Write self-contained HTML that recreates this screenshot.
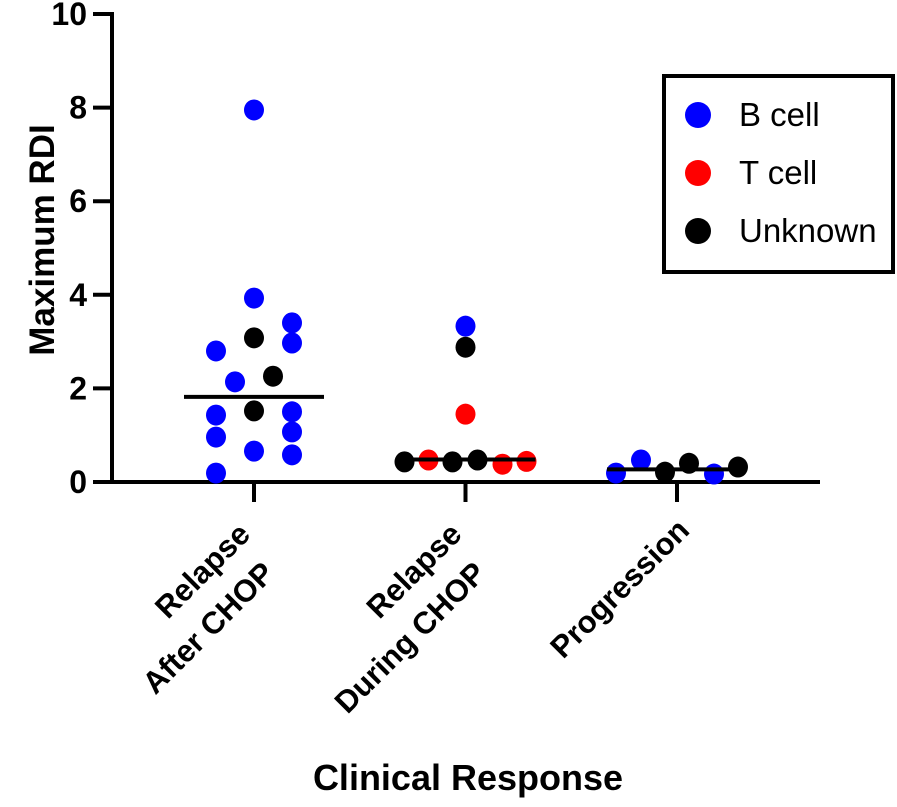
<!DOCTYPE html>
<html><head><meta charset="utf-8"><style>
body{margin:0;background:#fff}
svg text{font-family:"Liberation Sans",Arial,sans-serif}
</style></head><body>
<svg id="c" width="897" height="802" viewBox="0 0 897 802">
</svg>
<script>
const categories=["Relapse|After CHOP","Relapse|During CHOP","Progression"];
const yTicks=[0,2,4,6,8,10];
const values1=[2.80,2.14,1.43,0.96,0.19,7.95,3.93,3.08,1.52,0.66,2.26,3.40,2.97,1.50,1.07,0.58];
const types1=["B","B","B","B","B","B","B","U","U","B","U","B","B","B","B","B"];
const jitter1=[-38,-19,-38,-38,-38,0,0,0,0,0,19,38,38,38,38,38];
const values2=[0.43,0.47,0.43,0.47,0.38,0.44,3.33,2.88,1.45];
const types2=["U","T","U","U","T","T","B","U","T"];
const jitter2=[-61,-37,-13,12,37,61,0,0,0];
const values3=[0.19,0.47,0.21,0.40,0.17,0.32];
const types3=["B","B","U","U","B","U"];
const jitter3=[-61,-36,-12,12,37,61];
const medians=[1.82,0.48,0.27];
const legendLabels=["B cell","T cell","Unknown"];
const colors={B:"#0000ff",T:"#ff0000",U:"#000000"};
const NS="http://www.w3.org/2000/svg";
const svg=document.getElementById("c");
const y=v=>482-v*46.8;
const xc=i=>254+i*211.5;
function mk(t,a,p){const e=document.createElementNS(NS,t);for(const k in a)e.setAttribute(k,a[k]);(p||svg).appendChild(e);return e;}
let e=mk("line",{x1:112,y1:12,x2:112,y2:484,stroke:"#000","stroke-width":4});


e=mk("line",{x1:110,y1:482,x2:820,y2:482,stroke:"#000","stroke-width":4});


yTicks.forEach(t=>{
 let l=mk("line",{x1:93,y1:y(t),x2:112,y2:y(t),stroke:"#000","stroke-width":4});
 
 
 let tx=mk("text",{x:87,y:y(t)+11,"text-anchor":"end","font-size":32,"font-weight":"bold"});
 tx.textContent=t;
 
 
});
categories.forEach((c,i)=>{
 let l=mk("line",{x1:xc(i),y1:482,x2:xc(i),y2:502,stroke:"#000","stroke-width":4});
 
 
 const parts=c.split("|");
 const g=mk("g",{});
 
 
 parts.forEach((p,j)=>{
  let px,py;
  if(parts.length==2){px=xc(i)-2+j*24;py=536+j*39;}else{px=xc(i)+14;py=532;}
  let t=mk("text",{x:0,y:0,"text-anchor":"end","font-size":31,"font-weight":"bold",transform:`translate(${px},${py}) rotate(-45)`},g);
  t.textContent=p;
 });
});
const groups=[[values1,types1,jitter1],[values2,types2,jitter2],[values3,types3,jitter3]];
groups.forEach((g,i)=>{
 g[0].forEach((v,k)=>{
  let c=mk("ellipse",{cx:xc(i)+g[2][k],cy:y(v),rx:10,ry:10.5,fill:colors[g[1][k]]});
  
  
 });
 let m=mk("line",{x1:xc(i)-70,y1:y(medians[i]),x2:xc(i)+70,y2:y(medians[i]),stroke:"#000","stroke-width":4});
 
 
});
let lt=mk("text",{x:0,y:0,"text-anchor":"middle","font-size":35,"font-weight":"bold",transform:"translate(54,240) rotate(-90)"});
lt.textContent="Maximum RDI";


let xt=mk("text",{x:468,y:790,"text-anchor":"middle","font-size":36,"font-weight":"bold"});
xt.textContent="Clinical Response";


let lb=mk("rect",{x:664,y:76,width:229,height:196,fill:"#fff",stroke:"#000","stroke-width":4});


["B","T","U"].forEach((k,i)=>{
 let c=mk("ellipse",{cx:698,cy:115+i*58,rx:13,ry:13,fill:colors[k]});
 
 
 let t=mk("text",{x:739,y:126+i*58,"font-size":33});
 t.textContent=legendLabels[i];
 
 
});
</script>
</body></html>
